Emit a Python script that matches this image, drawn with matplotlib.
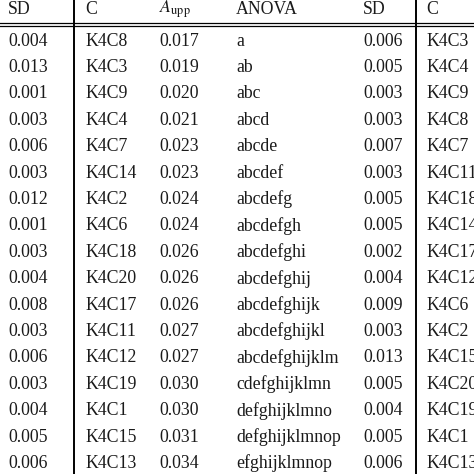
import matplotlib
matplotlib.use("Agg")
import matplotlib.pyplot as plt

headers = ["SD", "C", "$A_{\\mathrm{upp}}$", "ANOVA", "SD", "C"]
sd1 = ["0.004","0.013","0.001","0.003","0.006","0.003","0.012","0.001","0.003","0.004","0.008","0.003","0.006","0.003","0.004","0.005","0.006"]
c1 = ["K4C8","K4C3","K4C9","K4C4","K4C7","K4C14","K4C2","K4C6","K4C18","K4C20","K4C17","K4C11","K4C12","K4C19","K4C1","K4C15","K4C13"]
aupp = ["0.017","0.019","0.020","0.021","0.023","0.023","0.024","0.024","0.026","0.026","0.026","0.027","0.027","0.030","0.030","0.031","0.034"]
anova = ["a","ab","abc","abcd","abcde","abcdef","abcdefg","abcdefgh","abcdefghi","abcdefghij","abcdefghijk","abcdefghijkl","abcdefghijklm","cdefghijklmn","defghijklmno","defghijklmnop","efghijklmnop"]
sd2 = ["0.006","0.005","0.003","0.003","0.007","0.003","0.005","0.005","0.002","0.004","0.009","0.003","0.013","0.005","0.004","0.005","0.006"]
c2 = ["K4C3","K4C4","K4C9","K4C8","K4C7","K4C11","K4C18","K4C14","K4C17","K4C12","K4C6","K4C2","K4C15","K4C20","K4C19","K4C1","K4C13"]

plt.rcParams['mathtext.fontset'] = 'stix'
fig = plt.figure(figsize=(4.74, 4.74), dpi=100)
ax = fig.add_axes([0, 0, 1, 1])
ax.set_xlim(0, 474); ax.set_ylim(474, 0); ax.axis('off')

xs = [8, 85, 159, 236, 363, 426]
fs = 12.8
fam = "Liberation Serif"
tc = '#1a1a1a'
for x, h in zip(xs, headers):
    ax.text(x, 9, h, fontsize=fs, family=fam, va='center', ha='left', color=tc)
ax.plot([0, 474], [22.5, 22.5], color='k', lw=0.9)
ax.plot([0, 474], [25.5, 25.5], color='k', lw=0.9)
for x in [74, 416]:
    ax.plot([x, x], [0, 474], color='k', lw=1.4)

cols = [sd1, c1, aupp, anova, sd2, c2]
for i in range(len(sd1)):
    y = 41 + i * 26.4
    for x, col in zip(xs, cols):
        ax.text(x, y, col[i], fontsize=fs, family=fam, va='center', ha='left', color=tc)

fig.savefig("out.png", dpi=100)
